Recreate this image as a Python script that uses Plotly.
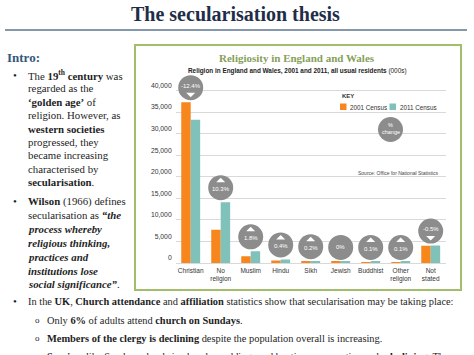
import plotly.graph_objects as go

# ---------------- data ----------------
categories = ["Christian", "No religion", "Muslim", "Hindu", "Sikh", "Jewish",
              "Buddhist", "Other religion", "Not stated"]
category_labels = ["Christian", "No<br>religion", "Muslim", "Hindu", "Sikh", "Jewish",
                   "Buddhist", "Other<br>religion", "Not<br>stated"]
census_2001 = [37300, 7700, 1550, 560, 330, 260, 150, 160, 4000]
census_2011 = [33200, 14100, 2710, 820, 420, 260, 250, 230, 4040]
pct_change = [-12.4, 10.3, 1.8, 0.4, 0.2, 0.0, 0.1, 0.1, -0.5]
pct_labels = ["-12.4%", "10.3%", "1.8%", "0.4%", "0.2%", "0%", "0.1%", "0.1%", "-0.5%"]
y_tick_vals = [0, 5000, 10000, 15000, 20000, 25000, 30000, 35000, 40000]
y_tick_text = ["0", "5,000", "10,000", "15,000", "20,000", "25,000", "30,000", "35,000", "40,000"]
series_names = ["2001 Census", "2011 Census"]

page_title = "The secularisation thesis"
intro_heading = "Intro:"
intro_lines = [
    "The <b>19<sup>th</sup> century</b> was",
    "regarded as the",
    "<b>\u2018golden age\u2019</b> of",
    "religion. However, as",
    "<b>western societies</b>",
    "progressed, they",
    "became increasing",
    "characterised by",
    "<b>secularisation</b>.",
]
wilson_lines = [
    "<b>Wilson</b> (1966) defines",
    "secularisation as <b><i>\u201cthe</i></b>",
    "<b><i>process whereby</i></b>",
    "<b><i>religious thinking,</i></b>",
    "<b><i>practices and</i></b>",
    "<b><i>institutions lose</i></b>",
    "<b><i>social significance\u201d</i></b>.",
]
uk_line = ("In the <b>UK</b>, <b>Church attendance</b> and <b>affiliation</b> statistics "
           "show that secularisation may be taking place:")
sub_lines = [
    "Only <b>6%</b> of adults attend <b>church on Sundays</b>.",
    "<b>Members of the clergy is declining</b> despite the population overall is increasing.",
    "<b>Services</b> like Sunday schools in church, weddings and baptisms are continuously "
    "<b>declining</b>. The",
]
chart_title = "Religiosity in England and Wales"
chart_subtitle = "<b>Religion in England and Wales, 2001 and 2011, all usual residents</b> (000s)"
source_text = "Source: Office for National Statistics"

# ---------------- styling ----------------
W, H = 474, 355
ORANGE = "#F7861C"
TEAL = "#80C1BA"
GREY_CIRCLE = "#8C8C8C"
SERIF = "Liberation Serif"
SANS = "Liberation Sans"
TEXT = "#1e1e1e"

Y0_PX = 263.0          # pixel row of value 0
PX_PER_UNIT = 172.5 / 40000
Y_MAX = 44500
Y_TOP_PX = Y0_PX - Y_MAX * PX_PER_UNIT


def px(x):
    return x / W


def py(y):
    return 1 - y / H


fig = go.Figure()
for name, vals, col in zip(series_names, [census_2001, census_2011], [ORANGE, TEAL]):
    fig.add_trace(go.Bar(x=categories, y=vals, name=name, marker=dict(color=col, line=dict(width=0)),
                         hoverinfo="x+y+name"))

shapes = []
annotations = []

# title + rule
annotations.append(dict(text="<b>" + page_title + "</b>", x=px(235), y=py(14), xref="paper", yref="paper",
                        showarrow=False, font=dict(family=SERIF, size=20, color="#1f2e48"),
                        xanchor="center", yanchor="middle"))
shapes.append(dict(type="line", xref="paper", yref="paper", x0=px(5), x1=px(467), y0=py(30), y1=py(30),
                   line=dict(color="#8497AB", width=2)))

# chart box
shapes.append(dict(type="rect", xref="paper", yref="paper", x0=px(135), x1=px(461), y0=py(45), y1=py(290),
                   line=dict(color="#A3BE6A", width=2), fillcolor="rgba(0,0,0,0)", layer="below"))

# left column text
annotations.append(dict(text="<b>" + intro_heading + "</b>", x=px(5), y=py(57), xref="paper", yref="paper",
                        showarrow=False, font=dict(family=SERIF, size=13, color="#35577A"),
                        xanchor="left", yanchor="middle"))


def add_line(text, x, y, size=11):
    annotations.append(dict(text=text, x=px(x), y=py(y), xref="paper", yref="paper", showarrow=False,
                            font=dict(family=SERIF, size=size, color=TEXT), xanchor="left", yanchor="middle"))


for i, t in enumerate(intro_lines):
    add_line(t, 26, 75 + i * 13.4, size=10.8)
add_line("\u2022", 11, 75)
for i, t in enumerate(wilson_lines):
    add_line(t, 26, 201 + i * 13.9, size=10.8)
add_line("\u2022", 11, 201)
add_line(uk_line, 26, 301, size=10.4)
add_line("\u2022", 11, 301)
for i, t in enumerate(sub_lines):
    yy = 320 + i * 18
    add_line(t, 45, yy, size=10.4)
    add_line("o", 33, yy, size=9)

# chart titles
annotations.append(dict(text="<b>" + chart_title + "</b>", x=px(297), y=py(58), xref="paper", yref="paper",
                        showarrow=False, font=dict(family=SERIF, size=11, color="#86A05A"),
                        xanchor="center", yanchor="middle"))
annotations.append(dict(text=chart_subtitle, x=px(297), y=py(71), xref="paper", yref="paper",
                        showarrow=False, font=dict(family=SANS, size=6.4, color="#222222"),
                        xanchor="center", yanchor="middle"))

# key
annotations.append(dict(text="<b>KEY</b>", x=px(340), y=py(96), xref="paper", yref="paper", showarrow=False,
                        font=dict(family=SANS, size=6, color="#333333"), xanchor="left", yanchor="middle"))
for (x0, col, name) in [(340, ORANGE, series_names[0]), (389.5, TEAL, series_names[1])]:
    shapes.append(dict(type="rect", xref="paper", yref="paper", x0=px(x0), x1=px(x0 + 6.5),
                       y0=py(110), y1=py(103.5), fillcolor=col, line=dict(width=0)))
    annotations.append(dict(text=name, x=px(x0 + 8), y=py(107), xref="paper", yref="paper",
                            showarrow=False, font=dict(family=SANS, size=6.3, color="#333333"),
                            xanchor="left", yanchor="middle"))
shapes.append(dict(type="circle", xref="paper", yref="paper", x0=px(378), x1=px(403), y0=py(117), y1=py(142),
                   fillcolor=GREY_CIRCLE, line=dict(width=0)))
annotations.append(dict(text="%", x=px(390.5), y=py(125), xref="paper", yref="paper", showarrow=False,
                        font=dict(family=SANS, size=5.5, color="white"), xanchor="center", yanchor="middle"))
annotations.append(dict(text="change", x=px(390.5), y=py(132), xref="paper", yref="paper", showarrow=False,
                        font=dict(family=SANS, size=5.5, color="white"), xanchor="center", yanchor="middle"))
annotations.append(dict(text=source_text, x=px(440), y=py(172.5), xref="paper", yref="paper", showarrow=False,
                        font=dict(family=SANS, size=5, color="#444444"), xanchor="right", yanchor="middle"))

# percentage-change bubbles anchored to the taller bar of each category
for cat, a, b, p, lab in zip(categories, census_2001, census_2011, pct_change, pct_labels):
    top = max(a, b)
    shapes.append(dict(type="circle", xref="x", yref="y", xsizemode="pixel", ysizemode="pixel",
                       xanchor=cat, yanchor=top, x0=-12.5, x1=12.5, y0=2, y1=27,
                       fillcolor=GREY_CIRCLE, line=dict(width=0)))
    if p > 0:
        path = "M -4.5 20 L 4.5 20 L 0 24.5 Z"
        shift = 13
    elif p < 0:
        path = "M -4.5 9.5 L 4.5 9.5 L 0 5 Z"
        shift = 16.5
    else:
        path = None
        shift = 14.5
    if path:
        shapes.append(dict(type="path", xref="x", yref="y", xsizemode="pixel", ysizemode="pixel",
                           xanchor=cat, yanchor=top, path=path, fillcolor="white", line=dict(width=0)))
    annotations.append(dict(text=lab, x=cat, y=top, xref="x", yref="y", yshift=shift, showarrow=False,
                            font=dict(family=SANS, size=6, color="white"), xanchor="center", yanchor="middle"))

fig.update_layout(
    width=W, height=H, margin=dict(l=0, r=0, t=0, b=0),
    paper_bgcolor="white", plot_bgcolor="white",
    showlegend=False, barmode="group", bargap=0.37, bargroupgap=0,
    xaxis=dict(domain=[px(175.7), px(445.7)], type="category", tickvals=categories, ticktext=category_labels,
               tickfont=dict(family=SANS, size=6.5, color="#333333"), showgrid=False, showline=False,
               ticks="", zeroline=False, fixedrange=True, ticklabelstandoff=2),
    yaxis=dict(domain=[py(Y0_PX), py(Y_TOP_PX)], range=[0, Y_MAX], tickvals=y_tick_vals, ticktext=y_tick_text,
               tickfont=dict(family=SANS, size=6.8, color="#333333"), showgrid=True, gridcolor="#D9D9D9",
               gridwidth=1, zeroline=True, zerolinecolor="#D9D9D9", zerolinewidth=1, showline=False,
               ticks="", ticklabelshift=-5, ticklabelstandoff=3, fixedrange=True),
    shapes=shapes, annotations=annotations,
)

fig.write_html("out.html", config={"displayModeBar": False},
               post_script="document.body.style.margin='0';document.body.style.overflow='hidden';")
